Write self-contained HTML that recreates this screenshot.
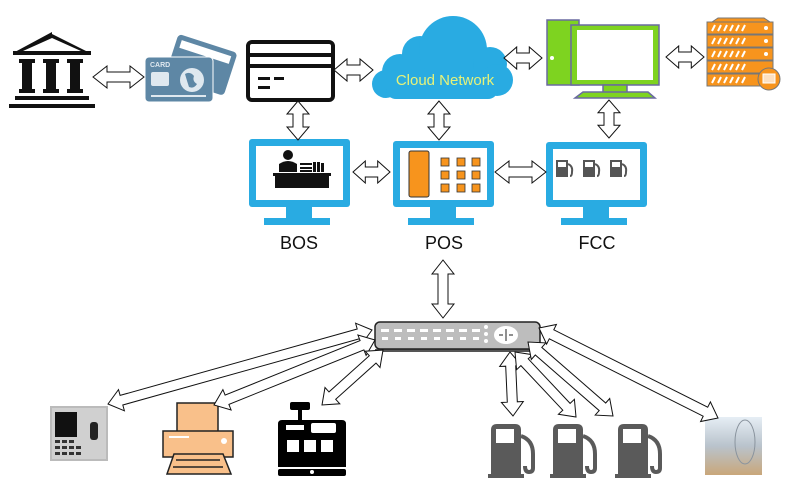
<!DOCTYPE html>
<html><head><meta charset="utf-8"><style>
html,body{margin:0;padding:0;background:#fff;width:804px;height:499px;overflow:hidden}
svg{display:block}
</style></head><body>
<svg id="s" width="804" height="499" viewBox="0 0 804 499" xmlns="http://www.w3.org/2000/svg" font-family="Liberation Sans, sans-serif">
<!-- Bank -->
<g fill="#111">
<polygon points="52,32 13,53 90,53 52,34"/>
<polygon points="52,38 23,51 81,51" fill="#fff"/>
<rect x="13" y="51" width="78" height="4"/>
<rect x="22" y="60" width="10" height="32"/><rect x="19" y="59" width="16" height="4"/><rect x="19" y="89" width="16" height="4"/>
<rect x="46" y="60" width="10" height="32"/><rect x="43" y="59" width="16" height="4"/><rect x="43" y="89" width="16" height="4"/>
<rect x="70" y="60" width="10" height="32"/><rect x="67" y="59" width="16" height="4"/><rect x="67" y="89" width="16" height="4"/>
<rect x="15" y="96" width="74" height="4"/>
<rect x="9" y="104" width="86" height="4"/>
</g>
<!-- Payment cards -->
<g>
<rect x="170" y="42" width="62" height="45" rx="4" fill="#5e87a5" transform="rotate(18 200 65)"/>
<rect x="175" y="47" width="52" height="8" fill="#fff" transform="rotate(18 200 65)"/>
<rect x="145" y="57" width="68" height="45" rx="4" fill="#5e87a5" stroke="#fff" stroke-width="1"/>
<text x="150" y="67" font-size="7" fill="#dfe8ef" font-weight="bold">CARD</text>
<rect x="151" y="72" width="18" height="14" rx="2" fill="#dfe8ef"/>
<circle cx="192" cy="80" r="12" fill="#dfe8ef"/>
<path d="M185,74 q5,-3 9,2 q-2,5 3,8 q-3,5 -8,3 q-2,-6 -4,-13z" fill="#5e87a5"/>
<rect x="151" y="95" width="55" height="2" fill="#dfe8ef"/>
</g>
<!-- Credit card outline -->
<rect x="248" y="42" width="85" height="58" rx="4" fill="#fff" stroke="#111" stroke-width="4"/>
<rect x="248" y="53" width="85" height="4" fill="#111"/>
<rect x="248" y="64" width="85" height="4" fill="#111"/>
<rect x="258" y="77" width="12" height="3" fill="#111"/><rect x="274" y="77" width="10" height="3" fill="#111"/><rect x="258" y="86" width="12" height="3" fill="#111"/>
<!-- Cloud -->
<g fill="#29abe2">
<circle cx="400" cy="72" r="18"/>
<circle cx="420" cy="54" r="18"/>
<circle cx="453" cy="50" r="34"/>
<circle cx="490" cy="64" r="17"/>
<circle cx="497" cy="80" r="16"/>
<circle cx="386" cy="84" r="14"/>
<rect x="386" y="70" width="112" height="29" rx="10"/>
</g>
<text x="445" y="85" font-size="15" text-anchor="middle" fill="#e6f27a">Cloud Network</text>
<!-- Desktop -->
<g stroke="#6a6aa0" stroke-width="1.5">
<rect x="547" y="20" width="32" height="65" fill="#7ed320"/>
<rect x="571" y="25" width="88" height="60" fill="#7ed320"/>
<rect x="577" y="30" width="76" height="50" fill="#fff" stroke="none"/>
<rect x="603" y="85" width="24" height="8" fill="#7ed320"/>
<polygon points="583,92 648,92 655,98 575,98" fill="#7ed320"/>
</g>
<circle cx="552" cy="58" r="2" fill="#fff"/>
<!-- Server -->
<g>
<polygon points="712,22 718,18 764,18 770,22" fill="#f7941d" stroke="#777" stroke-width="1"/>
<rect x="707" y="22" width="66" height="12" fill="#f7941d" stroke="#777"/>
<rect x="707" y="35" width="66" height="12" fill="#f7941d" stroke="#777"/>
<rect x="707" y="48" width="66" height="12" fill="#f7941d" stroke="#777"/>
<rect x="707" y="61" width="66" height="12" fill="#f7941d" stroke="#777"/>
<rect x="707" y="74" width="66" height="12" fill="#f7941d" stroke="#777"/>
<g stroke="#fff" stroke-width="2">
<path d="M712,31 l3,-6 M718,31 l3,-6 M724,31 l3,-6 M730,31 l3,-6 M736,31 l3,-6 M742,31 l3,-6"/>
<path d="M712,44 l3,-6 M718,44 l3,-6 M724,44 l3,-6 M730,44 l3,-6 M736,44 l3,-6 M742,44 l3,-6"/>
<path d="M712,57 l3,-6 M718,57 l3,-6 M724,57 l3,-6 M730,57 l3,-6 M736,57 l3,-6 M742,57 l3,-6"/>
<path d="M712,70 l3,-6 M718,70 l3,-6 M724,70 l3,-6 M730,70 l3,-6 M736,70 l3,-6 M742,70 l3,-6"/>
<path d="M712,83 l3,-6 M718,83 l3,-6 M724,83 l3,-6 M730,83 l3,-6 M736,83 l3,-6 M742,83 l3,-6"/>
</g>
<circle cx="766" cy="28" r="2" fill="#fff"/><circle cx="766" cy="41" r="2" fill="#fff"/><circle cx="766" cy="54" r="2" fill="#fff"/>
<circle cx="769" cy="79" r="11" fill="#f7941d" stroke="#777"/>
<rect x="763" y="74" width="12" height="9" fill="#fde0c0" stroke="#fff"/>
</g>
<!-- Monitors -->
<g fill="#29abe2">
<rect x="249" y="139" width="101" height="68" rx="3"/><rect x="286" y="206" width="26" height="12"/><rect x="264" y="218" width="66" height="7"/>
<rect x="393" y="141" width="101" height="66" rx="3"/><rect x="430" y="206" width="26" height="12"/><rect x="408" y="218" width="66" height="7"/>
<rect x="546" y="142" width="101" height="65" rx="3"/><rect x="583" y="206" width="26" height="12"/><rect x="561" y="218" width="66" height="7"/>
</g>
<rect x="256" y="146" width="87" height="54" fill="#fff"/>
<rect x="400" y="148" width="87" height="52" fill="#fff"/>
<rect x="553" y="149" width="87" height="51" fill="#fff"/>
<!-- BOS content -->
<g fill="#111">
<circle cx="288" cy="155" r="5"/><path d="M279,172 v-8 q9,-6 18,0 v8z"/>
<rect x="273" y="173" width="58" height="3"/><rect x="275" y="176" width="54" height="12"/>
<rect x="300" y="163" width="12" height="2"/><rect x="300" y="167" width="12" height="2"/><rect x="300" y="170" width="12" height="2"/>
<rect x="313" y="162" width="3" height="10"/><rect x="317" y="162" width="3" height="10"/><rect x="321" y="163" width="3" height="9"/>
</g>
<!-- POS content -->
<rect x="409" y="151" width="20" height="46" rx="2" fill="#f7941d" stroke="#333"/>
<g fill="#f7941d" stroke="#333" stroke-width="0.8">
<rect x="441" y="158" width="8" height="8"/><rect x="457" y="158" width="8" height="8"/><rect x="472" y="158" width="8" height="8"/>
<rect x="441" y="171" width="8" height="8"/><rect x="457" y="171" width="8" height="8"/><rect x="472" y="171" width="8" height="8"/>
<rect x="441" y="184" width="8" height="8"/><rect x="457" y="184" width="8" height="8"/><rect x="472" y="184" width="8" height="8"/>
</g>
<!-- FCC pumps -->
<g fill="#555">
<path d="M556,160 h12 v17 h-12z"/><rect x="558" y="162" width="8" height="5" fill="#fff"/><path d="M568,164 q5,2 4,8 q0,4 -2,4" stroke="#555" stroke-width="2" fill="none"/>
<path d="M583,160 h12 v17 h-12z"/><rect x="585" y="162" width="8" height="5" fill="#fff"/><path d="M595,164 q5,2 4,8 q0,4 -2,4" stroke="#555" stroke-width="2" fill="none"/>
<path d="M610,160 h12 v17 h-12z"/><rect x="612" y="162" width="8" height="5" fill="#fff"/><path d="M622,164 q5,2 4,8 q0,4 -2,4" stroke="#555" stroke-width="2" fill="none"/>
</g>
<g font-size="18" fill="#111" text-anchor="middle">
<text x="299" y="249">BOS</text><text x="444" y="249">POS</text><text x="597" y="249">FCC</text>
</g>
<!-- Switch -->
<rect x="375" y="349" width="165" height="3" fill="#555"/>
<rect x="375" y="322" width="165" height="27" rx="5" fill="#bdbdbd" stroke="#222" stroke-width="1.5"/>
<g fill="#fff">
<rect x="381" y="329" width="8" height="3"/><rect x="394" y="329" width="8" height="3"/><rect x="407" y="329" width="8" height="3"/><rect x="420" y="329" width="8" height="3"/><rect x="433" y="329" width="8" height="3"/><rect x="446" y="329" width="8" height="3"/><rect x="459" y="329" width="8" height="3"/><rect x="472" y="329" width="8" height="3"/>
<rect x="382" y="337" width="6" height="3"/><rect x="395" y="337" width="6" height="3"/><rect x="408" y="337" width="6" height="3"/><rect x="421" y="337" width="6" height="3"/><rect x="434" y="337" width="6" height="3"/><rect x="447" y="337" width="6" height="3"/><rect x="460" y="337" width="6" height="3"/><rect x="473" y="337" width="6" height="3"/>
<circle cx="486" cy="327" r="2"/><circle cx="486" cy="334" r="2"/><circle cx="486" cy="341" r="2"/>
<ellipse cx="506" cy="335" rx="12" ry="9"/>
</g>
<path d="M506,329 v12 M499,335 h4 M509,335 h4" stroke="#222" stroke-width="1"/>
<!-- Biometric -->
<rect x="50" y="406" width="58" height="55" fill="#bbb"/>
<rect x="52" y="408" width="54" height="51" fill="#d0d0d0"/>
<rect x="55" y="412" width="22" height="25" fill="#111"/>
<g fill="#333"><rect x="55" y="440" width="5" height="3"/><rect x="62" y="440" width="5" height="3"/><rect x="69" y="440" width="5" height="3"/><rect x="55" y="446" width="5" height="3"/><rect x="62" y="446" width="5" height="3"/><rect x="69" y="446" width="5" height="3"/><rect x="55" y="452" width="5" height="3"/><rect x="62" y="452" width="5" height="3"/><rect x="69" y="452" width="5" height="3"/><rect x="76" y="446" width="5" height="3"/><rect x="76" y="452" width="5" height="3"/></g>
<rect x="90" y="422" width="8" height="18" rx="3" fill="#222"/>
<!-- Printer -->
<g stroke="#222" stroke-width="1.5">
<rect x="177" y="403" width="41" height="30" fill="#f9c08a"/>
<rect x="163" y="431" width="70" height="26" fill="#f9c08a"/>
<polygon points="174,454 223,454 231,474 167,474" fill="#f9c08a"/>
</g>
<circle cx="224" cy="441" r="3" fill="#fff"/><rect x="169" y="436" width="20" height="2" fill="#fff"/>
<path d="M176,460 h44 M173,467 h50" stroke="#222" stroke-width="1.5"/>
<!-- Register -->
<g fill="#000">
<rect x="290" y="402" width="20" height="8" rx="2"/><rect x="298" y="410" width="4" height="10"/>
<path d="M282,420 h60 q4,0 4,4 v43 h-68 v-43 q0,-4 4,-4z"/>
<rect x="278" y="469" width="68" height="7" rx="2"/>
</g>
<rect x="286" y="425" width="18" height="5" fill="#fff"/><rect x="311" y="423" width="25" height="10" rx="2" fill="#fff"/>
<g fill="#fff"><rect x="287" y="440" width="12" height="12"/><rect x="304" y="440" width="12" height="12"/><rect x="321" y="440" width="12" height="12"/></g>
<circle cx="312" cy="472" r="2" fill="#fff"/>
<!-- Pumps -->
<g fill="#5a5a5a">
<path d="M491,430 q0,-6 6,-6 h18 q6,0 6,6 v44 h-30z"/><rect x="488" y="474" width="36" height="4"/><rect x="496" y="429" width="18" height="14" fill="#fff"/><path d="M521,436 q12,4 12,18 v14 q0,4 -4,4 q-4,0 -4,-6" stroke="#5a5a5a" stroke-width="4" fill="none"/>
<path d="M553,430 q0,-6 6,-6 h18 q6,0 6,6 v44 h-30z"/><rect x="550" y="474" width="36" height="4"/><rect x="558" y="429" width="18" height="14" fill="#fff"/><path d="M583,436 q12,4 12,18 v14 q0,4 -4,4 q-4,0 -4,-6" stroke="#5a5a5a" stroke-width="4" fill="none"/>
<path d="M618,430 q0,-6 6,-6 h18 q6,0 6,6 v44 h-30z"/><rect x="615" y="474" width="36" height="4"/><rect x="623" y="429" width="18" height="14" fill="#fff"/><path d="M648,436 q12,4 12,18 v14 q0,4 -4,4 q-4,0 -4,-6" stroke="#5a5a5a" stroke-width="4" fill="none"/>
</g>
<!-- Tank -->
<defs><linearGradient id="tk" x1="0" y1="0" x2="0" y2="1"><stop offset="0" stop-color="#e6eef5"/><stop offset="0.5" stop-color="#b9c3cc"/><stop offset="1" stop-color="#c9a77a"/></linearGradient></defs>
<rect x="705" y="417" width="57" height="58" fill="url(#tk)"/>
<ellipse cx="745" cy="442" rx="10" ry="22" fill="none" stroke="#8a949e"/>
<g id="arrows" fill="#fff" stroke="#111" stroke-width="1"></g>
</svg>
<script>
var A=[[93,77,144,77],[334,70,373,70],[504,58,542,58],[666,57,704,57],
[298,101,298,140],[439,101,439,140],[609,100,609,138],
[353,172,390,172],[495,172,546,172],[443,260,443,318],
[372,330,108,404],[375,340,214,405],[383,350,322,405],
[510,352,513,416],[515,352,576,417],[528,342,613,416],[539,328,718,418]];
var g=document.getElementById('arrows'),ns='http://www.w3.org/2000/svg';
A.forEach(function(a){var dx=a[2]-a[0],dy=a[3]-a[1],d=Math.sqrt(dx*dx+dy*dy),ux=dx/d,uy=dy/d,px=-uy,py=ux,w=5,h=11,L=Math.min(14,d/3);
var pts=[[0,0],[L,h],[L,w],[d-L,w],[d-L,h],[d,0],[d-L,-h],[d-L,-w],[L,-w],[L,-h]].map(function(p){return (a[0]+ux*p[0]+px*p[1]).toFixed(1)+','+(a[1]+uy*p[0]+py*p[1]).toFixed(1)}).join(' ');
var e=document.createElementNS(ns,'polygon');e.setAttribute('points',pts);g.appendChild(e);});
</script>
</body></html>
